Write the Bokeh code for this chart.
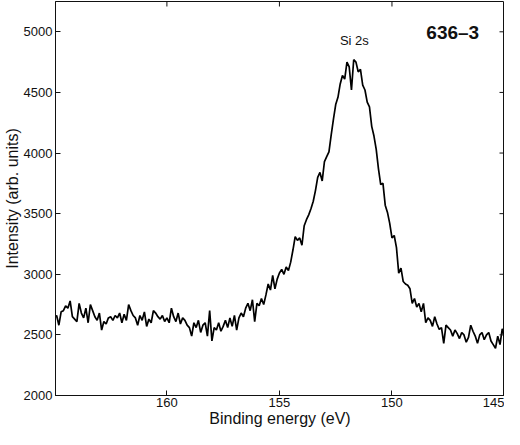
import numpy as np
from bokeh.plotting import figure
from bokeh.models import Range1d, FixedTicker, Label
from bokeh.embed import file_html
from bokeh.resources import INLINE

# ---- data ----
energy_start = 165.0
energy_stop = 145.0

# 165.0 -> 160.0 eV (step 0.1)
baseline_left = [
    2640, 2660, 2580, 2690, 2700, 2740, 2720, 2780, 2650, 2630,
    2610, 2760, 2680, 2640, 2720, 2600, 2750, 2700, 2650, 2620,
    2680, 2540, 2610, 2590, 2640, 2650, 2620, 2660, 2640, 2680,
    2600, 2670, 2620, 2750, 2700, 2660, 2640, 2580, 2660, 2620,
    2690, 2570, 2630, 2600, 2700, 2680, 2650, 2630, 2660, 2610,
    2640,
]
# 159.9 -> 156.1 eV
baseline_mid = [
    2600, 2720, 2650, 2610, 2680, 2590, 2640, 2620, 2580, 2560,
    2490, 2600, 2560, 2620, 2520, 2580, 2600, 2490, 2700, 2450,
    2560, 2540, 2600, 2530, 2570, 2620, 2560, 2640, 2570, 2660,
    2540, 2640, 2680, 2650, 2720, 2760, 2700, 2790, 2610,
]
# 156.0 -> 145.0 eV
peak_region = [
    2760, 2740, 2800, 2750, 2830, 2920, 2870, 2990, 2880, 2960,
    3010, 3040, 3000, 3060, 3030, 3100, 3200, 3310, 3280, 3300,
    3240, 3400, 3450, 3490, 3540, 3600, 3690, 3800, 3840, 3770,
    3930, 3970, 4010, 4150, 4280, 4400, 4460, 4570, 4640, 4610,
    4750, 4710, 4520, 4770, 4750, 4670, 4690, 4560, 4520, 4420,
    4380, 4220, 4140, 4030, 3870, 3740, 3750, 3570, 3510, 3420,
    3300, 3320, 3220, 3010, 3050, 2940, 2920, 2910, 2880, 2760,
    2800, 2730, 2760, 2690, 2760, 2600, 2640, 2620, 2570, 2650,
    2590, 2545, 2560, 2430, 2580, 2560, 2540, 2490, 2540, 2510,
    2470, 2520, 2500, 2440, 2480, 2580, 2530, 2490, 2430, 2500,
    2520, 2460, 2500, 2520, 2450, 2420, 2390, 2490, 2420, 2550,
    2480,
]
intensity = baseline_left + baseline_mid + peak_region
energy = np.linspace(energy_start, energy_stop, len(intensity))

x_ticks = [160, 155, 150, 145]
y_ticks = [2000, 2500, 3000, 3500, 4000, 4500, 5000]
x_lim = (164.95, 145.0)
y_lim = (2000, 5250)
peak_label = "Si 2s"
peak_label_pos = (151.67, 4925)
sample_label = "636\u20133"
sample_label_pos = (147.3, 4995)

FONT = "Liberation Sans"
INK = "#111111"

W, H = 504, 429
p = figure(width=W, height=H, output_backend="svg", toolbar_location=None,
           title=None, x_range=Range1d(*x_lim), y_range=Range1d(*y_lim))
p.min_border = 0
p.min_border_left = 0
p.min_border_right = 0
p.min_border_top = 1
p.min_border_bottom = 0

p.grid.visible = False
p.outline_line_color = INK
p.outline_line_width = 1
p.background_fill_color = "white"
p.border_fill_color = "white"

p.line(energy, intensity, line_color="black", line_width=1.7)

for ax in (p.xaxis[0], p.yaxis[0]):
    ax.major_tick_in = 5
    ax.major_tick_out = 0
    ax.minor_tick_line_color = None
    ax.major_tick_line_color = INK
    ax.axis_line_color = INK
    ax.major_label_text_font = FONT
    ax.major_label_text_color = INK
    ax.major_label_text_font_size = "13px"
    ax.major_label_standoff = 3
    ax.axis_label_text_font = FONT
    ax.axis_label_text_font_style = "normal"
    ax.axis_label_text_color = INK
    ax.axis_label_text_font_size = "16px"
    ax.axis_label_standoff = 0

p.xaxis.ticker = FixedTicker(ticks=x_ticks)
p.yaxis.ticker = FixedTicker(ticks=y_ticks)
p.xaxis.axis_label = "Binding energy (eV)"
p.yaxis.axis_label = "Intensity (arb. units)"
p.xaxis.major_label_standoff = 2

# inward ticks on the top and right edges of the box (MATLAB "box on")
tick_px = 5
frame_w_est = W - 56
frame_h_est = H - 1 - 34
dy = (y_lim[1] - y_lim[0]) / frame_h_est * tick_px
dx = (x_lim[0] - x_lim[1]) / frame_w_est * tick_px
p.segment(x0=x_ticks, y0=[y_lim[1]] * len(x_ticks),
          x1=x_ticks, y1=[y_lim[1] - dy] * len(x_ticks),
          line_color=INK, line_width=1)
p.segment(x0=[x_lim[1]] * len(y_ticks), y0=y_ticks,
          x1=[x_lim[1] + dx] * len(y_ticks), y1=y_ticks,
          line_color=INK, line_width=1)

p.add_layout(Label(x=peak_label_pos[0], y=peak_label_pos[1], text=peak_label,
                   text_font=FONT, text_font_size="13px", text_color=INK,
                   text_align="center", text_baseline="middle"))
p.add_layout(Label(x=sample_label_pos[0], y=sample_label_pos[1], text=sample_label,
                   text_font=FONT, text_font_size="19px", text_font_style="bold",
                   text_color=INK, text_align="center", text_baseline="middle"))

open("out.html", "w").write(file_html(p, INLINE))
